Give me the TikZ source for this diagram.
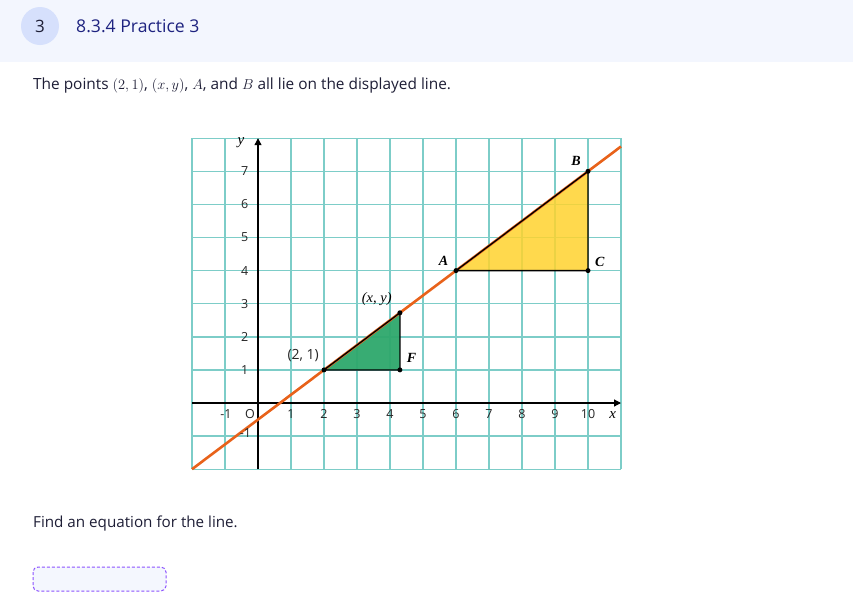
\documentclass[tikz,border=0pt]{standalone}
\usepackage{fontspec}
\setmainfont{Open Sans}
\newfontfamily\lblfont{Liberation Serif}
\usetikzlibrary{arrows.meta}
\definecolor{headbg}{HTML}{F3F6FE}
\definecolor{circbg}{HTML}{D6E0FC}
\definecolor{navy}{HTML}{1E2380}
\definecolor{bodytxt}{HTML}{1E1E36}
\definecolor{gridc}{HTML}{7DCDC8}
\definecolor{lineor}{HTML}{E8621A}
\definecolor{yel}{HTML}{FFD32E}
\definecolor{grn}{HTML}{2EA86C}
\definecolor{boxpur}{HTML}{8C52FF}
\definecolor{boxbg}{HTML}{F4F7FE}
\tikzset{
  tick/.style={font=\fontsize{12.5}{14}\selectfont, text=black!85, inner sep=0pt},
  ptlbl/.style={font=\lblfont\bfseries\itshape\fontsize{14}{16}\selectfont, inner sep=0pt},
  dot/.style={circle, fill=black, inner sep=0pt, minimum size=5pt},
  edge/.style={black, line width=1.3pt},
  gridline/.style={gridc, line width=1.4pt},
}
\begin{document}
\begin{tikzpicture}[x=1pt,y=-1pt]
\useasboundingbox (0,0) rectangle (853,603);
\fill[white] (0,0) rectangle (853,603);
\fill[headbg] (0,0) rectangle (853,62);
\node[circle, fill=circbg, minimum size=38pt, inner sep=0pt, text=bodytxt, font=\fontsize{17}{20}\selectfont] (num) at (40,26) {3};
\node[anchor=west, text=navy, font=\fontsize{17.6}{20}\selectfont, inner sep=0pt] (title) at (76,26) {8.3.4 Practice 3};
\node[anchor=base west, text=bodytxt, font=\fontsize{15.4}{18}\selectfont, inner sep=0pt] (stmt) at (33,89) {The points $(2,1)$, $(x,y)$, $A$, and $B$ all lie on the displayed line.};
\node[anchor=base west, text=bodytxt, font=\fontsize{15.2}{18}\selectfont, inner sep=0pt] (find) at (33,527) {Find an equation for the line.};
\draw[boxpur, dash pattern=on 3pt off 2pt, fill=boxbg, rounded corners=5pt, line width=1pt] (33,567) rectangle (166,591);
\begin{scope}[shift={(258,403)}, x=33pt, y=33.1pt]
  \foreach \i in {-2,...,11} \draw[gridline] (\i,-2) -- (\i,8);
  \foreach \j in {-2,...,8} \draw[gridline] (-2,\j) -- (11,\j);
  \coordinate (P) at (2,1);
  \coordinate (Q) at (4.3,2.725);
  \coordinate (F) at (4.3,1);
  \coordinate (A) at (6,4);
  \coordinate (B) at (10,7);
  \coordinate (C) at (10,4);
  \coordinate (L0) at (-2,-2);
  \coordinate (L1) at (11,7.75);
  \fill[yel, fill opacity=0.85] (A) -- (B) -- (C) -- cycle;
  \fill[grn, fill opacity=0.95] (P) -- (Q) -- (F) -- cycle;
  \coordinate (xa0) at (-2,0);
  \coordinate (xa1) at (11,0);
  \coordinate (ya0) at (0,-2);
  \coordinate (ya1) at (0,8);
  \draw[black, line width=1.2pt, -{Triangle[length=7pt,width=7pt]}] (xa0) -- (xa1);
  \draw[black, line width=1.2pt, -{Triangle[length=7pt,width=7pt]}] (ya0) -- (ya1);
  \draw[lineor, line width=2.6pt] (L0) -- (L1);
  \draw[edge] (A) -- (B) -- (C) -- cycle;
  \draw[edge] (P) -- (Q) -- (F) -- cycle;
  \foreach \p in {P,Q,F,A,B,C} \node[dot] at (\p) {};
  % tick labels
  \foreach \i in {1,...,10} \node[tick] (xt\i) at (\i,-0.34) {\i};
  \node[tick] (xtm1) at (-0.97,-0.34) {-1};
  \node[tick] (orig) at (-0.24,-0.34) {O};
  \foreach \i in {1,...,7} \node[tick] (yt\i) at (-0.4,\i) {\i};
  \node[tick] (ytm1) at (-0.38,-0.92) {-1};
  \node[ptlbl, font=\lblfont\itshape\fontsize{15}{17}\selectfont] (xl) at (10.75,-0.37) {x};
  \node[ptlbl, font=\lblfont\itshape\fontsize{15}{17}\selectfont] (yl) at (-0.52,7.85) {y};
  \node[ptlbl] (Bl) at (9.64,7.3) {B};
  \node[ptlbl] (Al) at (5.62,4.3) {A};
  \node[ptlbl] (Cl) at (10.36,4.25) {C};
  \node[ptlbl] (Fl) at (4.65,1.36) {F};
  \node[ptlbl, font=\lblfont\itshape\fontsize{14.5}{16}\selectfont] (Ql) at (3.6,3.15) {(x, y)};
  \node[tick, font=\fontsize{14}{16}\selectfont] (Pl) at (1.37,1.42) {(2, 1)};
\end{scope}
\end{tikzpicture}
\end{document}
